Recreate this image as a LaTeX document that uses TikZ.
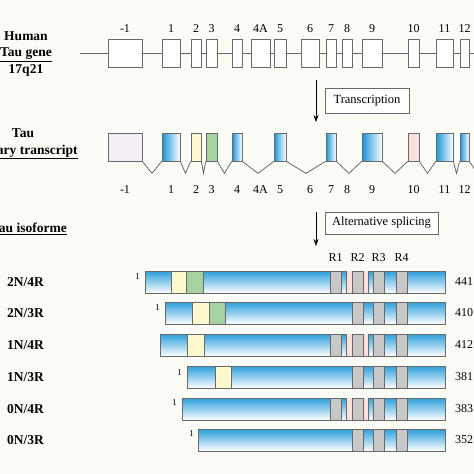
\documentclass[tikz,border=0pt]{standalone}
\usepackage{fontspec}
\setmainfont{Liberation Serif}
\usetikzlibrary{arrows.meta,calc}
\definecolor{bgcol}{RGB}{252,252,247}
\definecolor{exline}{RGB}{105,105,105}
\definecolor{exblue}{RGB}{25,150,215}
\definecolor{lavend}{RGB}{243,238,246}
\definecolor{yel}{RGB}{253,249,205}
\definecolor{grn}{RGB}{165,210,160}
\definecolor{pnk}{RGB}{251,225,222}
\definecolor{rgray}{RGB}{200,200,200}
\tikzset{
  gexon/.style={draw=exline, fill=white, line width=0.7pt, minimum height=28pt, inner sep=0pt},
  tblue/.style={gexon, left color=exblue, right color=white},
  isobar/.style={draw=exline, line width=0.7pt, top color=exblue!90, bottom color=white, minimum height=22pt, inner sep=0pt, anchor=north west},
  seg/.style={draw=exline, line width=0.7pt},
  gline/.style={draw=exline, line width=0.8pt},
  numlab/.style={font=\fontsize{12}{12}\selectfont, inner sep=0pt},
  onelab/.style={font=\fontsize{9}{9}\selectfont, inner sep=0pt, anchor=north east},
  headlab/.style={font=\bfseries\fontsize{13.5}{16.5}\selectfont, align=center, inner sep=0pt},
  isoname/.style={font=\bfseries\fontsize{13.5}{13.5}\selectfont, anchor=west, inner sep=0pt},
  aalab/.style={font=\fontsize{12}{12}\selectfont, anchor=west, inner sep=0pt},
  stepbox/.style={draw=exline, line width=0.6pt, fill=white, inner sep=0pt, font=\fontsize{12.5}{12.5}\selectfont},
  flow/.style={-{Stealth[length=7pt, width=5pt]}, line width=0.6pt},
}
\begin{document}
\begin{tikzpicture}[x=1pt, y=-1pt]
  \fill[bgcol] (0,0) rectangle (474,474);
  \useasboundingbox (0,0) rectangle (474,474);
  % gene
  \node[headlab] (genelab) at (26,54) {Human\\\underline{Tau gene}\\17q21};
  \coordinate (gstart) at (80,53);
  \coordinate (gend) at (480,53);
  \draw[gline] (gstart) -- (gend);
  \node[gexon, minimum width=34pt] (gm1) at (125,53) {};
  \node[gexon, minimum width=18pt] (g1) at (171,53) {};
  \node[gexon, minimum width=10pt] (g2) at (196,53) {};
  \node[gexon, minimum width=11pt] (g3) at (211.5,53) {};
  \node[gexon, minimum width=10pt] (g4) at (237,53) {};
  \node[gexon, minimum width=19pt] (g4A) at (260.5,53) {};
  \node[gexon, minimum width=12pt] (g5) at (280,53) {};
  \node[gexon, minimum width=18pt] (g6) at (310,53) {};
  \node[gexon, minimum width=10pt] (g7) at (331,53) {};
  \node[gexon, minimum width=10pt] (g8) at (347,53) {};
  \node[gexon, minimum width=20pt] (g9) at (372,53) {};
  \node[gexon, minimum width=11pt] (g10) at (413.5,53) {};
  \node[gexon, minimum width=17pt] (g11) at (444.5,53) {};
  \node[gexon, minimum width=9pt] (g12) at (464.5,53) {};
  % transcription
  \coordinate (tra) at (316,80);
  \coordinate (trb) at (316,122);
  \draw[flow] (tra) -- (trb);
  \node[stepbox, minimum width=84pt, minimum height=25pt] (trbox) at (367,100.5) {Transcription};
  % primary transcript
  \node[headlab] (trlab) at (23,144) {Tau\\\underline{primary transcript}};
  \node[gexon, fill=lavend, minimum width=34pt] (tm1) at (125,147) {};
  \node[tblue, minimum width=18pt] (t1) at (171,147) {};
  \node[gexon, fill=yel, minimum width=10pt] (t2) at (196,147) {};
  \node[gexon, fill=grn, minimum width=11pt] (t3) at (211.5,147) {};
  \node[tblue, minimum width=10pt] (t4) at (237,147) {};
  \node[tblue, minimum width=12pt] (t5) at (280,147) {};
  \node[tblue, minimum width=10pt] (t7) at (331,147) {};
  \node[tblue, minimum width=20pt] (t9) at (372,147) {};
  \node[gexon, fill=pnk, minimum width=11pt] (t10) at (413.5,147) {};
  \node[tblue, minimum width=17pt] (t11) at (444.5,147) {};
  \node[tblue, minimum width=9pt] (t12) at (464.5,147) {};
  \foreach \a/\b in {tm1/t1, t1/t2, t2/t3, t3/t4, t4/t5, t5/t7, t7/t9, t9/t10, t10/t11, t11/t12}
    \draw[gline] (\a.south east) -- ($(\a.south east)!.5!(\b.south west)+(0,12)$) -- (\b.south west);
  \coordinate (tend) at (482,180);
  \draw[gline] (t12.south east) -- (tend);
  % exon numbers
  \coordinate (glab) at (0,29);
  \coordinate (tlab) at (0,190);
  \foreach \n/\t in {gm1/-1, g1/1, g2/2, g3/3, g4/4, g4A/4A, g5/5, g6/6, g7/7, g8/8, g9/9, g10/10, g11/11, g12/12}{
    \node[numlab] at (\n |- glab) {\t};
    \node[numlab] at (\n |- tlab) {\t};
  }
  % alternative splicing
  \coordinate (spa) at (316,212);
  \coordinate (spb) at (316,246);
  \draw[flow] (spa) -- (spb);
  \node[stepbox, minimum width=113pt, minimum height=22pt] (spbox) at (381.5,223) {Alternative splicing};
  \node[headlab, anchor=west] (isolab) at (-9,229) {\underline{Tau isoforme}};
  \node[numlab] (r1) at (335.5,258) {R1};
  \node[numlab] (r2) at (357.5,258) {R2};
  \node[numlab] (r3) at (378.5,258) {R3};
  \node[numlab] (r4) at (401.5,258) {R4};
  % isoforms
  \node[isobar, minimum width=300pt] (b2n4r) at (145,271) {};
  \node[isobar, minimum width=280pt] (b2n3r) at (165,302) {};
  \node[isobar, minimum width=285pt] (b1n4r) at (160,334) {};
  \node[isobar, minimum width=258pt] (b1n3r) at (187,366) {};
  \node[isobar, minimum width=263pt] (b0n4r) at (182,398) {};
  \node[isobar, minimum width=247pt] (b0n3r) at (198,429) {};
  \draw[seg, fill=yel] (171,271) rectangle (186,293);
  \draw[seg, fill=grn] (186,271) rectangle (203,293);
  \draw[seg, fill=yel] (192,302) rectangle (209,324);
  \draw[seg, fill=grn] (209,302) rectangle (225,324);
  \draw[seg, fill=yel] (187,334) rectangle (204,356);
  \draw[seg, fill=yel] (215,366) rectangle (231,388);
  \foreach \t in {271,334,398}{
    \fill[pnk] (346,\t) rectangle (352,\t+22);
    \fill[pnk] (363,\t) rectangle (368,\t+22);
    \draw[seg] (346,\t) -- (346,\t+22);
    \draw[seg] (368,\t) -- (368,\t+22);
    \draw[seg, fill=rgray] (330,\t) rectangle (341,\t+22);
  }
  \foreach \t in {271,302,334,366,398,429}{
    \draw[seg, fill=rgray] (352,\t) rectangle (363,\t+22);
    \draw[seg, fill=rgray] (373,\t) rectangle (384,\t+22);
    \draw[seg, fill=rgray] (396,\t) rectangle (407,\t+22);
  }
  \node[onelab] at ([xshift=-5pt, yshift=-2pt]b2n4r.north west) {1};
  \node[onelab] at ([xshift=-5pt, yshift=-2pt]b2n3r.north west) {1};
  \node[onelab] at ([xshift=-5pt, yshift=-3pt]b1n3r.north west) {1};
  \node[onelab] at ([xshift=-5pt, yshift=-1pt]b0n4r.north west) {1};
  \node[onelab] at ([xshift=-4pt, yshift=-1pt]b0n3r.north west) {1};
  \node[isoname] (n2n4r) at (7,282) {2N/4R};
  \node[isoname] (n2n3r) at (7,313) {2N/3R};
  \node[isoname] (n1n4r) at (7,345) {1N/4R};
  \node[isoname] (n1n3r) at (7,377) {1N/3R};
  \node[isoname] (n0n4r) at (7,409) {0N/4R};
  \node[isoname] (n0n3r) at (7,440) {0N/3R};
  \node[aalab] (a441) at (455,282) {441};
  \node[aalab] (a410) at (455,313) {410};
  \node[aalab] (a412) at (455,345) {412};
  \node[aalab] (a381) at (455,377) {381};
  \node[aalab] (a383) at (455,409) {383};
  \node[aalab] (a352) at (455,440) {352};
\end{tikzpicture}
\end{document}
